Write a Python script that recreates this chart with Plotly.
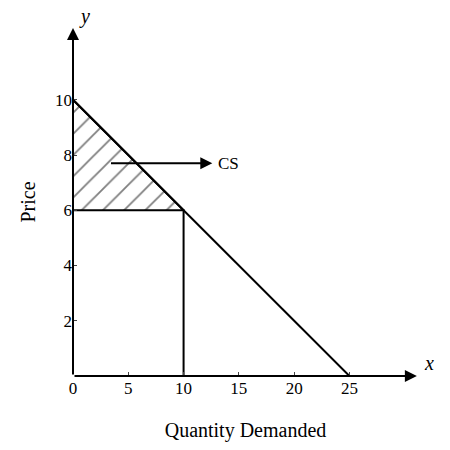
import plotly.graph_objects as go

# demand line and equilibrium
demand_q = [0, 25]
demand_p = [10, 0]
eq_q = 10
eq_p = 6
cs_q = [0, 0, 10]
cs_p = [6, 10, 6]
x_ticks = [0, 5, 10, 15, 20, 25]
y_ticks = [2, 4, 6, 8, 10]

font = dict(family="Liberation Serif", size=17, color="black")
tfont = dict(family="Liberation Serif", size=20, color="black")

fig = go.Figure()
# consumer surplus triangle, hatched
fig.add_trace(go.Scatter(
    x=cs_q, y=cs_p, fill="toself", mode="lines",
    line=dict(color="black", width=2),
    fillcolor="rgba(0,0,0,0)",
    fillpattern=dict(shape="/", fgcolor="black", bgcolor="white", size=15, solidity=0.12),
))
fig.add_trace(go.Scatter(x=demand_q, y=demand_p, mode="lines",
                         line=dict(color="black", width=2)))
fig.add_trace(go.Scatter(x=[0, eq_q, eq_q], y=[eq_p, eq_p, 0], mode="lines",
                         line=dict(color="black", width=2)))

arrow = dict(showarrow=True, arrowhead=2, arrowsize=1.2, arrowwidth=2,
             arrowcolor="black", axref="x", ayref="y", text="")
fig.add_annotation(x=31.1, y=0, ax=0, ay=0, **arrow)
fig.add_annotation(x=0, y=12.6, ax=0, ay=0, **arrow)
fig.add_annotation(x=12.6, y=7.7, ax=3.3, ay=7.7, **arrow)
fig.add_annotation(x=12.9, y=7.7, text="CS", showarrow=False, xanchor="left", font=font)
fig.add_annotation(x=1.0, y=0, xref="paper", yref="paper", xshift=4, text="<i>x</i>",
                   showarrow=False, xanchor="left", font=tfont)
fig.add_annotation(x=0, y=1.0, xref="paper", yref="paper", xshift=4, yshift=-2, text="<i>y</i>",
                   showarrow=False, yanchor="bottom", font=tfont)

fig.update_xaxes(range=[0, 31.2], tickvals=x_ticks, ticks="inside", ticklen=4,
                 showgrid=False, zeroline=False, showline=False,
                 title=dict(text="Quantity Demanded", font=tfont, standoff=25), tickfont=font)
fig.update_yaxes(range=[0, 12.6], tickvals=y_ticks, ticks="inside", ticklen=4,
                 showgrid=False, zeroline=False, showline=False,
                 title=dict(text="Price", font=tfont, standoff=14), tickfont=font)
fig.update_layout(width=450, height=450, showlegend=False,
                  plot_bgcolor="white", paper_bgcolor="white",
                  margin=dict(l=65, r=40, t=20, b=82, autoexpand=False))
fig.write_html("out.html")
